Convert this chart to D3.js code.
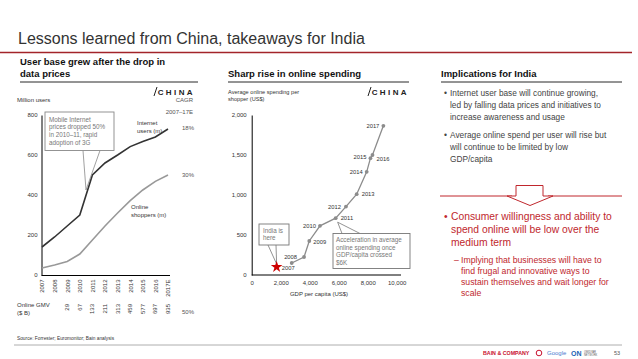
<!DOCTYPE html>
<html><head><meta charset="utf-8">
<script src="https://cdn.jsdelivr.net/npm/d3@7"></script>
<style>
html,body{margin:0;padding:0;background:#fff;}
svg{display:block;font-family:"Liberation Sans",Arial,sans-serif;}
</style></head>
<body>
<script>
// ---------- DATA ----------
const years = ["2007","2008","2009","2010","2011","2012","2013","2014","2015","2016","2017E"];
const internetUsers = [140,190,245,300,500,560,600,642,667,690,730];
const onlineShoppers = [35,50,68,105,175,245,310,372,425,468,500];
const onlineGMV = [null,null,29,67,133,211,313,459,577,697,935];
const userTicks = [0,200,400,600,800];

const spendYears = ["2007","2008","2009","2010","2011","2012","2013","2014","2015","2016","2017"];
const gdpPerCapita = [2760,3610,3970,4710,5790,6500,7240,7930,8190,8330,9080];
const avgSpend = [150,225,425,615,710,855,1010,1290,1460,1500,1865];
const indiaPoint = {gdp:1720, spend:100};
const spendTicks = [0,500,1000,1500,2000];
const gdpTicks = [0,2000,4000,6000,8000,10000];

const bullets1 = [
  ["Internet user base will continue growing,","led by falling data prices and initiatives to","increase awareness and usage"],
  ["Average online spend per user will rise but","will continue to be limited by low","GDP/capita"]
];
const redBullet = ["Consumer willingness and ability to","spend online will be low over the","medium term"];
const subBullet = ["Implying that businesses will have to","find frugal and innovative ways to","sustain themselves and wait longer for","scale"];

// ---------- DRAW ----------
const W=638,H=359;
const svg=d3.select("body").append("svg").attr("width",W).attr("height",H);
const RED="#c0272d", TXT="#333";

svg.append("text").attr("x",18).attr("y",44).attr("font-size",16).attr("fill",TXT)
  .text("Lessons learned from China, takeaways for India");
svg.append("line").attr("x1",0).attr("x2",632).attr("y1",52.5).attr("y2",52.5).attr("stroke","#a3242a").attr("stroke-width",1.3);

function heading(x,lines,y0,x2){
  lines.forEach((t,i)=>svg.append("text").attr("x",x).attr("y",y0+i*12.2).attr("font-size",9.5).attr("font-weight","bold").attr("fill","#111").text(t));
  svg.append("line").attr("x1",x).attr("x2",x2).attr("y1",82).attr("y2",82).attr("stroke","#111").attr("stroke-width",0.9);
}
heading(20,["User base grew after the drop in","data prices"],65,198);
heading(228,["Sharp rise in online spending"],77,409);
heading(441,["Implications for India"],77,622);

function chinaLogo(xEnd,y){
  const g=svg.append("g");
  g.append("text").attr("x",xEnd).attr("y",y).attr("text-anchor","end").attr("font-size",8).attr("font-weight","bold")
   .attr("letter-spacing",2.4).attr("fill","#222").text("CHINA");
  g.append("line").attr("x1",xEnd-41).attr("x2",xEnd-38).attr("y1",y+1).attr("y2",y-8).attr("stroke","#222").attr("stroke-width",1);
}

// ----- Left chart -----
const sm=6;
const x1=d3.scalePoint().domain(years).range([42,168]);
const y1=d3.scaleLinear().domain([0,800]).range([275,115]);
svg.append("text").attr("x",17).attr("y",102).attr("font-size",sm).attr("fill",TXT).text("Million users");
chinaLogo(195,95);
svg.append("text").attr("x",193).attr("y",102).attr("text-anchor","end").attr("font-size",sm).attr("fill","#555").text("CAGR");
svg.append("text").attr("x",193).attr("y",114).attr("text-anchor","end").attr("font-size",sm).attr("fill","#555").text("2007–17E");
svg.append("text").attr("x",182).attr("y",130).attr("font-size",sm).attr("fill","#555").text("18%");
svg.append("text").attr("x",182).attr("y",177).attr("font-size",sm).attr("fill","#555").text("30%");

const gy1=svg.append("g").attr("transform","translate(41.5,0)")
  .call(d3.axisLeft(y1).tickValues(userTicks).tickSize(0).tickPadding(4));
gy1.select(".domain").attr("stroke","#000");
gy1.selectAll("text").attr("font-size",sm).attr("font-family","Liberation Sans,Arial").attr("fill",TXT);
const gx1=svg.append("g").attr("transform","translate(0,275.5)")
  .call(d3.axisBottom(x1).tickSize(0).tickPadding(3));
gx1.select(".domain").attr("stroke","#000").attr("d","M41.5,0H170");
gx1.selectAll("text").attr("font-size",sm).attr("font-family","Liberation Sans,Arial").attr("fill",TXT)
  .attr("transform","rotate(-90)").attr("text-anchor","end").attr("dx","-2").attr("dy","0.32em").attr("y",0).attr("x",-2);

const line1=d3.line().x((d,i)=>x1(years[i])).y(d=>y1(d));
svg.append("path").datum(internetUsers).attr("d",line1).attr("fill","none").attr("stroke","#333").attr("stroke-width",1.6);
svg.append("path").datum(onlineShoppers).attr("d",line1).attr("fill","none").attr("stroke","#999").attr("stroke-width",1.6);

svg.append("text").attr("font-size",sm).attr("fill",TXT)
  .selectAll("tspan").data(["Internet","users (m)"]).join("tspan").attr("x",137).attr("y",(d,i)=>125+i*8).text(d=>d);
svg.append("text").attr("font-size",sm).attr("fill",TXT)
  .selectAll("tspan").data(["Online","shoppers (m)"]).join("tspan").attr("x",131).attr("y",(d,i)=>209+i*8).text(d=>d);

// callout
svg.append("path").attr("d","M83,150.5L86,190L100,150.5").attr("fill","none").attr("stroke","#888").attr("stroke-width",0.8);
svg.append("rect").attr("x",45).attr("y",112).attr("width",69).attr("height",38.5).attr("fill","#fff").attr("stroke","#888").attr("stroke-width",0.9);
svg.append("text").attr("font-size",6.3).attr("fill","#777")
  .selectAll("tspan").data(["Mobile Internet","prices dropped 50%","in 2010–11, rapid","adoption of 3G"]).join("tspan")
  .attr("x",49).attr("y",(d,i)=>121.5+i*7.8).text(d=>d);

// GMV row
svg.append("text").attr("font-size",sm).attr("fill",TXT)
  .selectAll("tspan").data(["Online GMV","($ B)"]).join("tspan").attr("x",17).attr("y",(d,i)=>307+i*8).text(d=>d);
svg.append("g").selectAll("text").data(years.filter((d,i)=>onlineGMV[i]!=null)).join("text")
  .attr("transform",d=>`translate(${x1(d)+2},304) rotate(-90)`).attr("text-anchor","end")
  .attr("font-size",sm).attr("fill",TXT).text(d=>onlineGMV[years.indexOf(d)]);
svg.append("text").attr("x",182).attr("y",314).attr("font-size",sm).attr("fill","#555").text("50%");

// ----- Middle chart -----
const x2=d3.scaleLinear().domain([0,10000]).range([251.7,396.7]);
const y2=d3.scaleLinear().domain([0,2000]).range([275,115]);
svg.append("text").attr("font-size",5.6).attr("fill",TXT)
  .selectAll("tspan").data(["Average online spending per","shopper (US$)"]).join("tspan").attr("x",228).attr("y",(d,i)=>94+i*7).text(d=>d);
chinaLogo(409,95);
const gy2=svg.append("g").attr("transform","translate(251.7,0)")
  .call(d3.axisLeft(y2).tickValues(spendTicks).tickSize(0).tickPadding(5).tickFormat(d3.format(",")));
gy2.select(".domain").attr("stroke","#000");
gy2.selectAll("text").attr("font-size",sm).attr("font-family","Liberation Sans,Arial").attr("fill",TXT);
const gx2=svg.append("g").attr("transform","translate(0,275)")
  .call(d3.axisBottom(x2).tickValues(gdpTicks).tickSize(0).tickPadding(6).tickFormat(d3.format(",")));
gx2.select(".domain").attr("stroke","#000").attr("d","M251.7,0H401");
gx2.selectAll("text").attr("font-size",sm).attr("font-family","Liberation Sans,Arial").attr("fill",TXT);
svg.append("text").attr("x",319).attr("y",296).attr("text-anchor","middle").attr("font-size",sm).attr("fill",TXT).text("GDP per capita (US$)");

const line2=d3.line().x((d,i)=>x2(gdpPerCapita[i])).y(d=>y2(d));
svg.append("path").datum(avgSpend).attr("d",line2).attr("fill","none").attr("stroke","#8c8c8c").attr("stroke-width",1.3);
svg.append("g").selectAll("circle").data(avgSpend).join("circle")
  .attr("cx",(d,i)=>x2(gdpPerCapita[i])).attr("cy",d=>y2(d)).attr("r",1.9).attr("fill","#8c8c8c");
const lblOff=[[3,7,"end"],[-7,2,"end"],[4,3,"start"],[-4,2,"end"],[5,2,"start"],[-5,2,"end"],[5,2,"start"],[-4,2,"end"],[-4,1,"end"],[4,6,"start"],[-4,2,"end"]];
svg.append("g").selectAll("text").data(spendYears).join("text")
  .attr("x",(d,i)=>x2(gdpPerCapita[i])+lblOff[i][0]).attr("y",(d,i)=>y2(avgSpend[i])+lblOff[i][1])
  .attr("text-anchor",(d,i)=>lblOff[i][2]).attr("font-size",5.8).attr("fill",TXT).text(d=>d);

// India callout
svg.append("path").attr("d",`M268,245L${x2(indiaPoint.gdp)},${y2(indiaPoint.spend)-3}L276,245`).attr("fill","none").attr("stroke","#777").attr("stroke-width",0.8);
svg.append("rect").attr("x",259).attr("y",224).attr("width",30).attr("height",21).attr("fill","#fff").attr("stroke","#777").attr("stroke-width",0.9);
svg.append("text").attr("font-size",6.3).attr("fill","#777")
  .selectAll("tspan").data(["India is","here"]).join("tspan").attr("x",263).attr("y",(d,i)=>232.5+i*7.8).text(d=>d);
svg.append("path").attr("d",d3.symbol(d3.symbolStar,42)()).attr("transform",`translate(${x2(indiaPoint.gdp)},${y2(indiaPoint.spend)})`).attr("fill","#c00");

// Acceleration callout
svg.append("path").attr("d",`M342,233.5L${x2(gdpPerCapita[4])+2},${y2(avgSpend[4])+4}L360,233.5`).attr("fill","none").attr("stroke","#777").attr("stroke-width",0.8);
svg.append("rect").attr("x",333).attr("y",233.5).attr("width",77).attr("height",35).attr("fill","#fff").attr("stroke","#777").attr("stroke-width",0.9);
svg.append("text").attr("font-size",6.3).attr("fill","#777")
  .selectAll("tspan").data(["Acceleration in average","online spending once","GDP/capita crossed","$6K"]).join("tspan")
  .attr("x",336).attr("y",(d,i)=>242+i*7.6).text(d=>d);

// ----- Right panel -----
let yy=96;
bullets1.forEach((b,bi)=>{
  svg.append("text").attr("x",444).attr("y",yy).attr("font-size",8.5).attr("fill","#444").text("•");
  b.forEach((t,i)=>svg.append("text").attr("x",450).attr("y",yy+i*12).attr("font-size",8.3).attr("fill","#444").text(t));
  yy+=42;
});
svg.append("line").attr("x1",440).attr("x2",512).attr("y1",196).attr("y2",196).attr("stroke",RED).attr("stroke-width",1);
svg.append("line").attr("x1",548).attr("x2",622).attr("y1",196).attr("y2",196).attr("stroke",RED).attr("stroke-width",1);
svg.append("path").attr("d","M516,185.5H543V196H553L530,205.5L507,196H516Z").attr("fill","#fff").attr("stroke",RED).attr("stroke-width",1);

svg.append("text").attr("x",444).attr("y",220).attr("font-size",10.3).attr("fill",RED).text("•");
redBullet.forEach((t,i)=>svg.append("text").attr("x",451).attr("y",220+i*13).attr("font-size",10.3).attr("fill",RED).text(t));
svg.append("text").attr("x",454).attr("y",262.5).attr("font-size",8.7).attr("fill",RED).text("–");
subBullet.forEach((t,i)=>svg.append("text").attr("x",461).attr("y",262.5+i*11).attr("font-size",8.7).attr("fill",RED).text(t));

// ----- Footer -----
svg.append("text").attr("x",17).attr("y",340).attr("font-size",4.8).attr("fill",TXT).text("Source: Forrester; Euromonitor; Bain analysis");
svg.append("line").attr("x1",14).attr("x2",622).attr("y1",345).attr("y2",345).attr("stroke","#999").attr("stroke-width",0.8);
svg.append("text").attr("x",483).attr("y",355).attr("font-size",5.3).attr("font-weight","bold").attr("fill","#c8102e").text("BAIN & COMPANY");
svg.append("circle").attr("cx",539).attr("cy",353).attr("r",2.8).attr("fill","none").attr("stroke","#c8102e").attr("stroke-width",1);
svg.append("text").attr("x",547).attr("y",355).attr("font-size",6).attr("fill","#4a7bd0").text("Google");
svg.append("text").attr("x",571).attr("y",355.5).attr("font-size",7).attr("font-weight","bold").attr("fill","#1a5fb4").text("ON");
svg.append("text").attr("font-size",2.6).attr("fill","#555")
  .selectAll("tspan").data(["OMIDYAR","NETWORK"]).join("tspan").attr("x",584).attr("y",(d,i)=>352.5+i*3).text(d=>d);
svg.append("text").attr("x",614).attr("y",355).attr("font-size",5.5).attr("fill","#555").text("53");
</script>
</body></html>
